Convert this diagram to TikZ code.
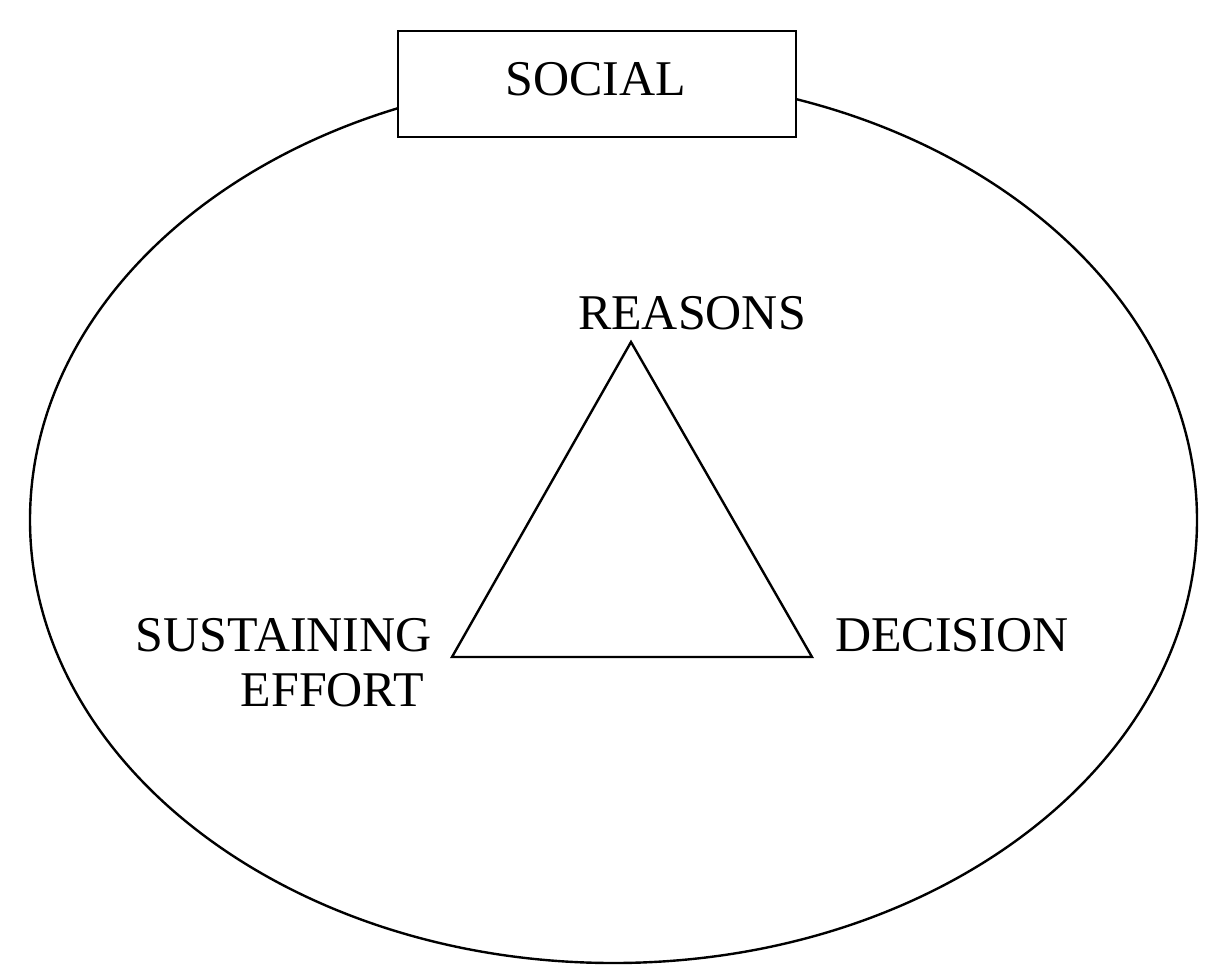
\documentclass[tikz,border=0pt]{standalone}
\usepackage{fontspec}
\setmainfont{Liberation Serif}
\begin{document}
\begin{tikzpicture}[x=1pt,y=-1pt,
  lbl/.style={font=\fontsize{50}{55}\selectfont, inner sep=0pt},
  ln/.style={line width=2.4pt, line join=miter}]
\useasboundingbox (0,0) rectangle (1206,972);
\draw[ln] (613.5,520) ellipse [x radius=583.5, y radius=443];
\node[ln, draw, fill=white, minimum width=398pt, minimum height=106pt, inner sep=0pt] (social) at (597,84) {};
\node[lbl, anchor=base] (soclbl) at (596,95) {SOCIAL};
\coordinate (r) at (631,342);
\coordinate (d) at (812,657);
\coordinate (s) at (452,657);
\draw[ln] (r) -- (d) -- (s) -- cycle;
\node[lbl, anchor=base] (reasons) at (692,329) {REASONS};
\node[lbl, anchor=base west] (decision) at (835,651) {DECISION};
\node[lbl, anchor=base east] (sust) at (432,651) {SUSTAINING};
\node[lbl, anchor=base east] (effort) at (424,706) {EFFORT};
\end{tikzpicture}
\end{document}
